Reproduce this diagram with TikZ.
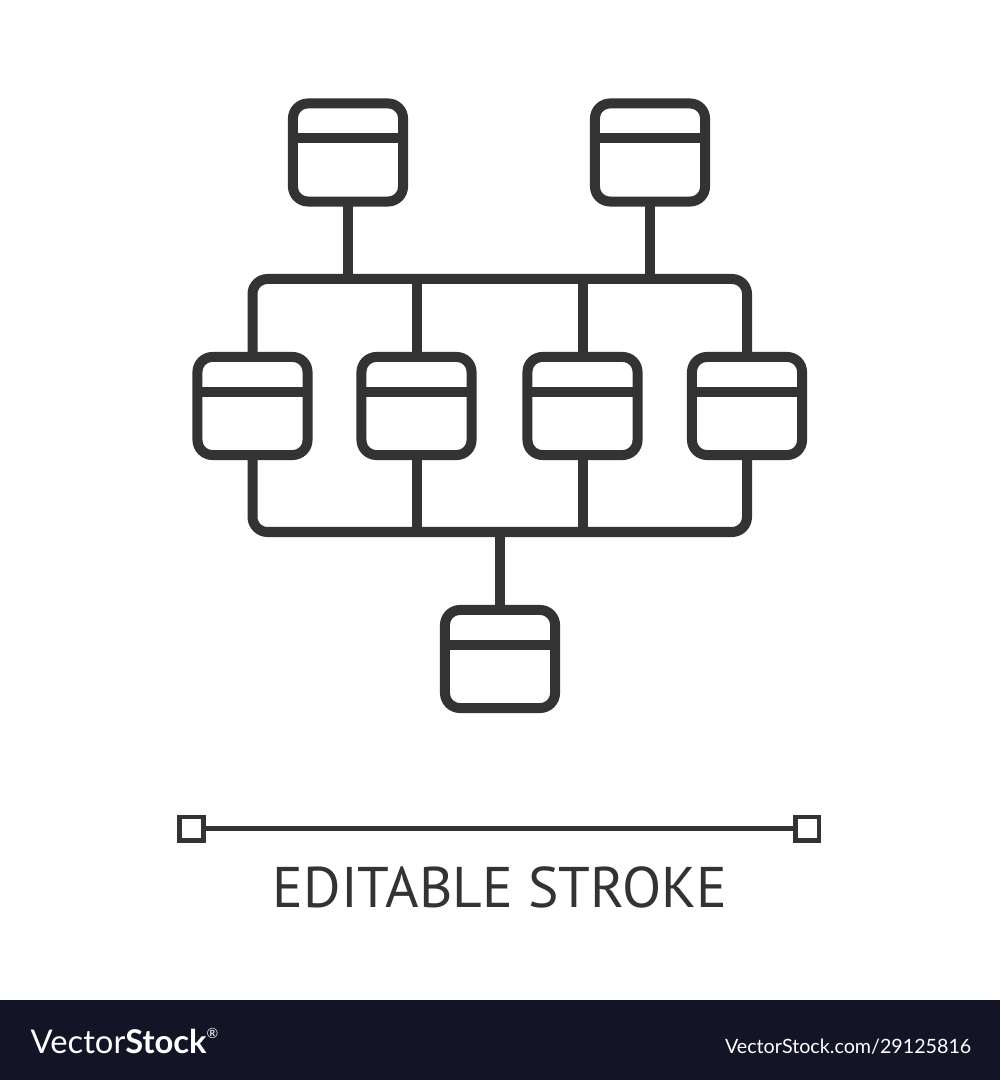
\documentclass[tikz,border=0pt]{standalone}
\usepackage{xcolor}
\usepackage{tikz}
\usepackage{fontspec}
\setmainfont{PT Sans}
\newfontfamily\footfont{Lato}
\usetikzlibrary{calc}
\usetikzlibrary{positioning}
\usetikzlibrary{backgrounds}
\definecolor{icon}{HTML}{333333}
\definecolor{band}{HTML}{131426}

\begin{document}
\begin{tikzpicture}[x=0.01cm,y=-0.01cm,
		win/.style={draw=icon,fill=white,line width=0.1cm,rounded corners=0.15cm,minimum width=1.1cm,minimum height=0.98cm,inner sep=0pt,outer sep=0pt},
		wire/.style={draw=icon,line width=0.1cm},
		handle/.style={draw=icon,fill=white,line width=0.045cm,minimum size=0.235cm,inner sep=0pt,outer sep=0pt}]
			\useasboundingbox (0,0) rectangle (1000,1080);
			\coordinate (bustop) at (500,279);
			\coordinate (busbot) at (500,532);
			% top windows
			\node[win] (t1) at (348,152.5) {};
			\node[win] (t2) at (650,152.5) {};
			% middle row
			\node[win] (m1) at (252.5,406) {};
			\node[win] (m2) at (416.5,406) {};
			\node[win] (m3) at (582.5,406) {};
			\node[win] (m4) at (747,406) {};
			% bottom window
			\node[win] (bt) at (500,659) {};
			\foreach \b in {t1,t2,m1,m2,m3,m4,bt}
				\draw[wire] ([yshift=-0.35cm]\b.north west) -- ([yshift=-0.35cm]\b.north east);
			\begin{scope}[on background layer]
				\draw[wire,rounded corners=0.15cm] (m1.north |- bustop) rectangle (m4.south |- busbot);
				\draw[wire] (t1.south) -- (t1.south |- bustop);
				\draw[wire] (t2.south) -- (t2.south |- bustop);
				\draw[wire] (m2.north) -- (m2.north |- bustop);
				\draw[wire] (m3.north) -- (m3.north |- bustop);
				\draw[wire] (m2.south) -- (m2.south |- busbot);
				\draw[wire] (m3.south) -- (m3.south |- busbot);
				\draw[wire] (busbot) -- (bt.north);
			\end{scope}
			% editable stroke
			\node[handle] (h1) at (191.5,828.5) {};
			\node[handle] (h2) at (807,828.5) {};
			\draw[icon,line width=0.045cm] (h1) -- (h2);
			\node[anchor=base,text=icon,inner sep=0pt] (cap) at (500,907) {\fontsize{16.3}{17}\selectfont EDITABLE STROKE};
			% footer
			\fill[band] (0,1000) rectangle (1000,1080);
			\node[anchor=base west,text=white,inner sep=0pt] (logo) at (30,1053) {\footfont\fontsize{9.3}{10}\selectfont Vector\textbf{Stock}\raisebox{0.9ex}{\fontsize{4}{4}\selectfont ®}};
			\node[anchor=base east,text=white,inner sep=0pt] (url) at (972,1053) {\footfont\fontsize{5.6}{6}\selectfont VectorStock.com/29125816};
		\end{tikzpicture}
\end{document}
